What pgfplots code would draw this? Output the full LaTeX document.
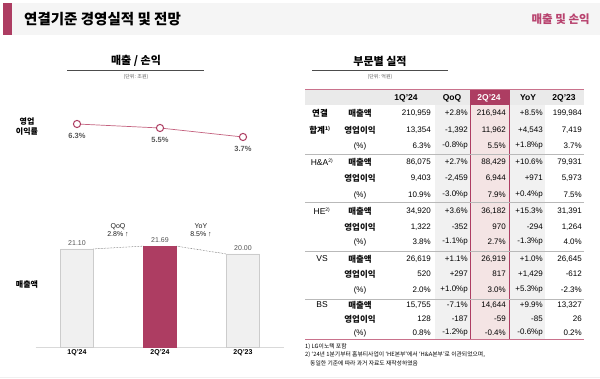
\documentclass[border=0pt]{standalone}
\usepackage{pgfplots}
\pgfplotsset{compat=1.18}
\usepackage{fontspec}
\setmainfont{Liberation Sans}
\newfontfamily\kr{Noto Sans CJK KR}
\definecolor{crim}{HTML}{AD3D62}
\definecolor{crimtxt}{HTML}{B8426E}
\definecolor{crimline}{HTML}{C4627F}
\definecolor{tline}{HTML}{C9728C}
\definecolor{pinkcol}{HTML}{F4E4E4}
\definecolor{graycol}{HTML}{F1F1F1}
\definecolor{headgray}{HTML}{EAEAEA}
\definecolor{barpale}{HTML}{F0F0F0}
\definecolor{baredge}{HTML}{CCCCCC}
\newcommand\trow[6]{%
  \node[anchor=east] at (431,#1) {#2};
  \node[anchor=east] at (468,#1) {#3};
  \node[anchor=east] at (506,#1) {#4};
  \node[anchor=east] at (543,#1) {#5};
  \node[anchor=east] at (582,#1) {#6};}
\newcommand\lab[2]{\node[font=\kr\bfseries\fontsize{8.5}{10}\selectfont, text=gray!15!black] at (360,#1) {#2};}
\begin{document}
\begin{tikzpicture}[x=1pt,y=-1pt,every node/.style={inner sep=0pt}]
\path[use as bounding box, fill=white] (0,0) rectangle (600,379);
% title bar
\fill[gray!8] (3,3) rectangle (600,35);
\fill[crim] (3,3) rectangle (12,35);
\node[anchor=west, font=\kr\bfseries\fontsize{14.5}{16}\selectfont] at (24,19) {연결기준 경영실적 및 전망};
\node[anchor=east, text=crimtxt, font=\kr\bfseries\fontsize{11.5}{13}\selectfont] at (590,19) {매출 및 손익};
% section headers
\node[font=\kr\bfseries\fontsize{11}{13}\selectfont] at (136,61) {매출 / 손익};
\draw[gray!60!black, line width=0.6pt] (67,70.5) -- (204,70.5);
\node[font=\kr\fontsize{5}{6}\selectfont, text=gray!70!black] at (136,76.5) {(단위: 조원)};
\node[font=\kr\bfseries\fontsize{11}{13}\selectfont] at (380,61) {부문별 실적};
\draw[gray!60!black, line width=0.6pt] (312,70.5) -- (448,70.5);
\node[font=\kr\fontsize{5}{6}\selectfont, text=gray!70!black] at (380,76.5) {(단위: 억원)};
% left labels
\node[align=center, font=\kr\bfseries\fontsize{8}{10}\selectfont] at (27,127) {영업\\이익률};
\node[font=\kr\bfseries\fontsize{8}{10}\selectfont] at (27,285) {매출액};
% line chart
\begin{axis}[at={(35.5pt,-155.5pt)}, anchor=south west, scale only axis,
  width=249pt, height=35pt, xmin=-0.5, xmax=2.5, ymin=0, ymax=7,
  axis lines=none, clip=false, /pgf/number format/assume math mode=true]
\addplot[color=crimline, line width=0.7pt, mark=*, mark size=3.6pt,
  mark options={fill=white, draw=crim, line width=1pt},
  nodes near coords={\pgfmathprintnumber[fixed,precision=1,fixed zerofill]{\pgfplotspointmeta}\%},
  nodes near coords align=below,
  every node near coord/.append style={font=\bfseries\fontsize{7.5}{9}\selectfont, text=gray!70!black, yshift=-8.5pt, inner sep=0pt}]
  coordinates {(0,6.3) (1,5.5) (2,3.7)};
\end{axis}
% bar chart
\begin{axis}[at={(35.5pt,-347pt)}, anchor=south west, scale only axis,
  width=249pt, height=116.25pt, xmin=-0.5, xmax=2.5, ymin=0, ymax=25,
  axis x line=bottom, axis y line=none, x axis line style={draw=gray!30, -},
  xtick={0,1,2}, xticklabels={1Q’24,2Q’24,2Q’23}, major tick length=0pt,
  xticklabel style={font=\bfseries\fontsize{7}{8}\selectfont, yshift=-2.5pt},
  clip=false, /pgf/number format/assume math mode=true,
  nodes near coords={\pgfmathprintnumber[fixed,precision=2,fixed zerofill]{\pgfplotspointmeta}},
  every node near coord/.append style={font=\fontsize{7}{8}\selectfont, text=gray!65!black, inner sep=1pt, yshift=2pt}]
\addplot[ybar, bar width=33pt, fill=barpale, draw=baredge] coordinates {(0,21.10) (2,20.00)};
\addplot[ybar, bar width=33pt, fill=crim, draw=crim] coordinates {(1,21.69)};
\addplot[densely dotted, gray!60!black, line width=0.5pt, nodes near coords={}] coordinates {(0.199,21.10) (0.801,21.69)};
\addplot[densely dotted, gray!60!black, line width=0.5pt, nodes near coords={}] coordinates {(1.199,21.69) (1.801,20.00)};
\end{axis}
\node[align=center, font=\fontsize{7}{8.5}\selectfont, text=gray!25!black] at (118,230) {QoQ\\2.8\% ↑};
\node[align=center, font=\fontsize{7}{8.5}\selectfont, text=gray!25!black] at (201,230) {YoY\\8.5\% ↑};
% table backgrounds
\fill[headgray] (305,90) rectangle (584,105);
\fill[graycol] (435,105) rectangle (470,340);
\fill[graycol] (509,105) rectangle (545,340);
\fill[pinkcol] (470,105) rectangle (509,340);
\fill[crim] (470,90) rectangle (509,105);
\draw[crim, line width=0.8pt] (470,90) -- (470,340);
\draw[crim, line width=0.8pt] (509,90) -- (509,340);
\draw[tline, line width=1pt] (305,90) -- (584,90);
\draw[tline, line width=1pt] (305,340) -- (584,340);
\foreach \yy in {154,202,251,299} \draw[gray!55, line width=0.5pt] (305,\yy) -- (584,\yy);
% header
\begin{scope}[font=\bfseries\fontsize{8.5}{10}\selectfont]
\node at (406,98) {1Q’24};
\node at (452,98) {QoQ};
\node[text=white] at (489,98) {2Q’24};
\node at (528,98) {YoY};
\node at (564,98) {2Q’23};
\end{scope}
% group labels
\begin{scope}[font=\kr\bfseries\fontsize{8.5}{10}\selectfont]
\node at (320,113) {연결};
\node at (320,130) {합계\textsuperscript{\fontsize{5}{6}\selectfont 1)}};
\node[font=\fontsize{8.5}{10}\selectfont] at (322,162) {H\&A\textsuperscript{\fontsize{5}{6}\selectfont 2)}};
\node[font=\fontsize{8.5}{10}\selectfont] at (322,211) {HE\textsuperscript{\fontsize{5}{6}\selectfont 2)}};
\node[font=\fontsize{8.5}{10}\selectfont] at (322,259) {VS};
\node[font=\fontsize{8.5}{10}\selectfont] at (322,305) {BS};
\end{scope}
% item labels
\foreach \yy in {113,162,211,259,305} {\lab{\yy}{매출액}}
\foreach \yy in {130,178,227,274,319} {\lab{\yy}{영업이익}}
\foreach \yy in {146,195,242,290,333} {\node[font=\fontsize{8}{10}\selectfont] at (360,\yy) {(\%)};}
% table data
\begin{scope}[font=\fontsize{8}{10}\selectfont]
\trow{113}{210,959}{+2.8\%}{216,944}{+8.5\%}{199,984}
\trow{130}{13,354}{-1,392}{11,962}{+4,543}{7,419}
\trow{146}{6.3\%}{-0.8\%p}{5.5\%}{+1.8\%p}{3.7\%}
\trow{162}{86,075}{+2.7\%}{88,429}{+10.6\%}{79,931}
\trow{178}{9,403}{-2,459}{6,944}{+971}{5,973}
\trow{195}{10.9\%}{-3.0\%p}{7.9\%}{+0.4\%p}{7.5\%}
\trow{211}{34,920}{+3.6\%}{36,182}{+15.3\%}{31,391}
\trow{227}{1,322}{-352}{970}{-294}{1,264}
\trow{242}{3.8\%}{-1.1\%p}{2.7\%}{-1.3\%p}{4.0\%}
\trow{259}{26,619}{+1.1\%}{26,919}{+1.0\%}{26,645}
\trow{274}{520}{+297}{817}{+1,429}{-612}
\trow{290}{2.0\%}{+1.0\%p}{3.0\%}{+5.3\%p}{-2.3\%}
\trow{305}{15,755}{-7.1\%}{14,644}{+9.9\%}{13,327}
\trow{319}{128}{-187}{-59}{-85}{26}
\trow{333}{0.8\%}{-1.2\%p}{-0.4\%}{-0.6\%p}{0.2\%}
\end{scope}
% footnotes
\begin{scope}[font=\kr\fontsize{5.8}{7}\selectfont]
\node[anchor=west] at (305,347) {1) LG이노텍 포함};
\node[anchor=west] at (305,355) {2) ‘24년 1분기부터 홈뷰티사업이 ‘HE본부’에서 ‘H\&A본부’로 이관되었으며,};
\node[anchor=west] at (310,363) {동일한 기준에 따라 과거 자료도 재작성하였음};
\end{scope}
\draw[gray!12, line width=0.6pt] (0,377.5) -- (600,377.5);
\end{tikzpicture}
\end{document}
